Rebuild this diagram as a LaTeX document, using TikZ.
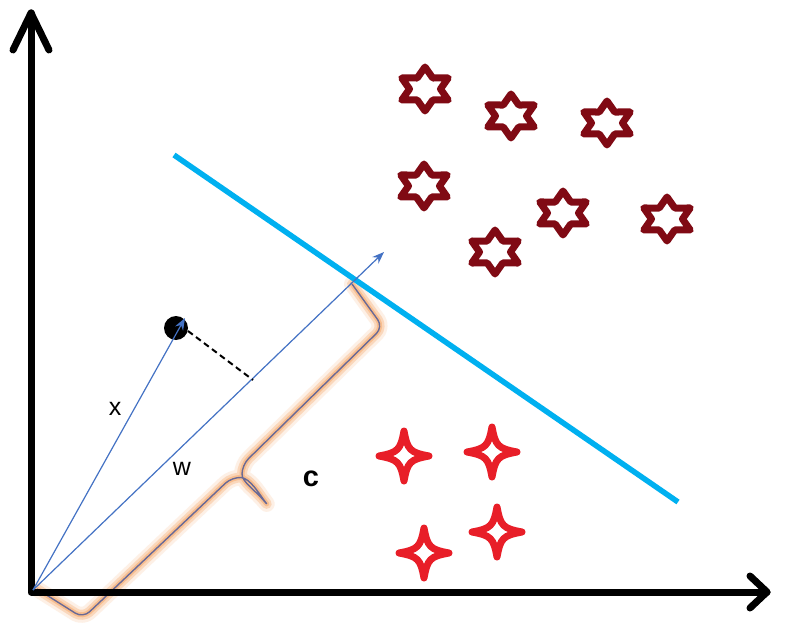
\documentclass[tikz,border=0pt]{standalone}
\usepackage{fontspec}
\setmainfont{Liberation Sans}
\usetikzlibrary{arrows.meta}
\definecolor{axisblue}{RGB}{68,114,196}
\definecolor{cyanline}{RGB}{0,176,240}
\definecolor{darkstar}{RGB}{128,10,20}
\definecolor{redstar}{RGB}{232,30,40}
\definecolor{glow}{RGB}{246,160,90}
\definecolor{bracecol}{RGB}{105,105,150}
\tikzset{
  axisline/.style={line width=7pt, line cap=round, line join=round, black},
  vecline/.style={axisblue, line width=1.2pt, -{Stealth[length=12pt,width=9pt]}},
  hexline/.style={darkstar, line width=7pt, line join=round},
  quadline/.style={redstar, line width=7pt, line join=round},
  lbl/.style={font=\fontsize{25}{27}\selectfont, inner sep=0pt},
  hexa/.pic={\draw[hexline, xscale=1.22] (90:22pt) -- (120:12.7pt) -- (150:22pt) -- (180:12.7pt) -- (210:22pt) -- (240:12.7pt) -- (270:22pt) -- (300:12.7pt) -- (330:22pt) -- (0:12.7pt) -- (30:22pt) -- (60:12.7pt) -- cycle;},
  quad/.pic={\draw[quadline] (0pt,-25pt) .. controls (3.5pt,-6pt) and (6pt,-3.5pt) .. (25pt,0pt) .. controls (6pt,3.5pt) and (3.5pt,6pt) .. (0pt,25pt) .. controls (-3.5pt,6pt) and (-6pt,3.5pt) .. (-25pt,0pt) .. controls (-6pt,-3.5pt) and (-3.5pt,-6pt) .. cycle;}
}
\begin{document}
\begin{tikzpicture}[x=1pt,y=-1pt]
\useasboundingbox[fill=white] (0,0) rectangle (804,623);
% brace glow and brace
\def\bracepath{(37,589) -- (83,618) -- (232,477) .. controls (250,478) and (260,495) .. (270,508) .. controls (255,490) and (242,482) .. (242,465) -- (383,327) -- (352,284)}
\draw[glow, opacity=0.15, line width=16pt, rounded corners=9pt, line join=round, line cap=round] \bracepath;
\draw[glow, opacity=0.3, line width=10pt, rounded corners=9pt, line join=round, line cap=round] \bracepath;
\draw[glow, opacity=0.45, line width=5pt, rounded corners=9pt, line join=round, line cap=round] \bracepath;
\draw[bracecol, line width=1.4pt, rounded corners=9pt] \bracepath;
% axes
\coordinate (O) at (33,590);
\coordinate (corner) at (31,592);
\coordinate (ytip) at (31,13);
\coordinate (xtip) at (767,592);
\draw[axisline] (ytip) -- (corner) -- (xtip);
\draw[axisline] (13,50) -- (ytip) -- (49,50);
\draw[axisline] (750,576) -- (xtip) -- (750,608);
% separating line
\coordinate (L1) at (174,155);
\coordinate (L2) at (678,502);
\draw[cyanline, line width=5.5pt] (L1) -- (L2);
% point
\node[circle, fill=black, minimum size=24pt, inner sep=0pt] (pt) at (176,328) {};
\coordinate (xt) at (185,318);
\coordinate (wt) at (384,252);
\draw[vecline] (O) -- (xt);
\draw[vecline] (O) -- (wt);
\coordinate (proj) at (253,380);
\draw[black, line width=2pt, dashed, dash pattern=on 6pt off 4pt] (188,331) -- (proj);
% labels
\node[lbl] (lx) at (115,409) {x};
\node[lbl] (lw) at (182,469) {w};
\node[lbl, font=\fontsize{29}{31}\selectfont\bfseries] (lc) at (311,479) {c};
% hexagram stars
\foreach \p in {(425,89),(511,116),(607,123),(424,186),(563,213),(667,219),(495,252)}
  \pic at \p {hexa};
% four-point stars
\foreach \p in {(404,456),(492,452),(424,553),(497,532)}
  \pic at \p {quad};
\end{tikzpicture}
\end{document}
